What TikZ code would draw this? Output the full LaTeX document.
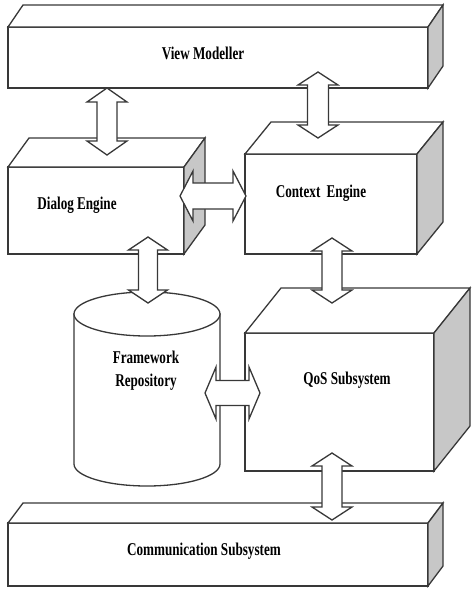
\documentclass[tikz,border=0pt]{standalone}
\usepackage{fontspec}
\setmainfont{Liberation Serif}[FakeStretch=0.73]
\usetikzlibrary{calc}
\tikzset{
  edge/.style={draw=black!78, line width=1.3pt, line join=miter},
  face/.style={edge, fill=white},
  side/.style={edge, fill=black!22},
  front/.style={edge, fill=white, rectangle, inner sep=0pt, outer sep=0pt, anchor=north west},
  lbl/.style={font=\bfseries\fontsize{18}{23}\selectfont, align=center, inner sep=0pt},
  fat/.style={edge, fill=white}
}
\newcommand\cuboid[3]{%
  \draw[face] (#1.north west) -- ++(#2,-#3) -- ($(#1.north east)+(#2,-#3)$) -- (#1.north east) -- cycle;
  \draw[side] (#1.north east) -- ++(#2,-#3) -- ($(#1.south east)+(#2,-#3)$) -- (#1.south east) -- cycle;}
\newcommand\vfat[5]{%
  \draw[fat] let \p1=(#1), \p2=(#2) in
    (\x1,\y1) -- (\x1+#4,\y1-#5) -- (\x1+#3,\y1-#5) -- (\x1+#3,\y2+#5) -- (\x1+#4,\y2+#5)
    -- (\x1,\y2) -- (\x1-#4,\y2+#5) -- (\x1-#3,\y2+#5) -- (\x1-#3,\y1-#5) -- (\x1-#4,\y1-#5) -- cycle;}
\newcommand\hfat[5]{%
  \draw[fat] let \p1=(#1), \p2=(#2) in
    (\x1,\y1) -- (\x1+#5,\y1+#4) -- (\x1+#5,\y1+#3) -- (\x2-#5,\y1+#3) -- (\x2-#5,\y1+#4)
    -- (\x2,\y1) -- (\x2-#5,\y1-#4) -- (\x2-#5,\y1-#3) -- (\x1+#5,\y1-#3) -- (\x1+#5,\y1-#4) -- cycle;}
\begin{document}
\begin{tikzpicture}[x=1pt,y=-1pt]
\useasboundingbox (0,0) rectangle (474,597);
\fill[white] (0,0) rectangle (474,597);
% boxes
\node[front, minimum width=420pt, minimum height=61pt] (vm) at (8,27) {};
\cuboid{vm}{15}{22}
\node[front, minimum width=176pt, minimum height=87pt] (dl) at (8,167) {};
\cuboid{dl}{21}{29}
\node[front, minimum width=172pt, minimum height=100pt] (cx) at (245,154) {};
\cuboid{cx}{26}{32}
\node[front, minimum width=189pt, minimum height=138pt] (qs) at (245,333) {};
\cuboid{qs}{36}{45}
\node[front, minimum width=420pt, minimum height=63pt] (cm) at (8,523) {};
\cuboid{cm}{15}{20}
% cylinder
\draw[face] (74,314) -- (74,464) arc[start angle=180, end angle=360, x radius=73pt, y radius=22pt] -- (220,314) -- cycle;
\draw[face] (147,314) ellipse[x radius=73pt, y radius=22pt];
% labels
\node[lbl] (vmt) at (203,53) {View Modeller};
\node[lbl] (dlt) at (77,205) {Dialog Engine};
\node[lbl] (cxt) at (321,193) {Context\hspace{3pt} Engine};
\node[lbl] (repo) at (146,371) {Framework\\Repository};
\node[lbl] (qst) at (347,380) {QoS Subsystem};
\node[lbl] (cmt) at (204,551) {Communication Subsystem};
% arrow end points
\coordinate (a1t) at (107,88);  \coordinate (a1b) at (107,155);
\coordinate (a2t) at (318,72);  \coordinate (a2b) at (318,138);
\coordinate (a3t) at (148,237); \coordinate (a3b) at (148,303);
\coordinate (a4t) at (332,238); \coordinate (a4b) at (332,303);
\coordinate (a5t) at (332,453); \coordinate (a5b) at (332,520);
\coordinate (h1l) at (180,196); \coordinate (h1r) at (246,196);
\coordinate (h2l) at (205,393); \coordinate (h2r) at (260,393);
% arrows
\vfat{a1t}{a1b}{10pt}{20pt}{14pt}
\vfat{a2t}{a2b}{10.5pt}{20pt}{13pt}
\vfat{a3t}{a3b}{9.5pt}{19.5pt}{13pt}
\vfat{a4t}{a4b}{10pt}{20pt}{13pt}
\vfat{a5t}{a5b}{10pt}{20pt}{13pt}
\hfat{h1l}{h1r}{13pt}{25pt}{13pt}
\hfat{h2l}{h2r}{12.5pt}{26pt}{11pt}
\end{tikzpicture}
\end{document}
